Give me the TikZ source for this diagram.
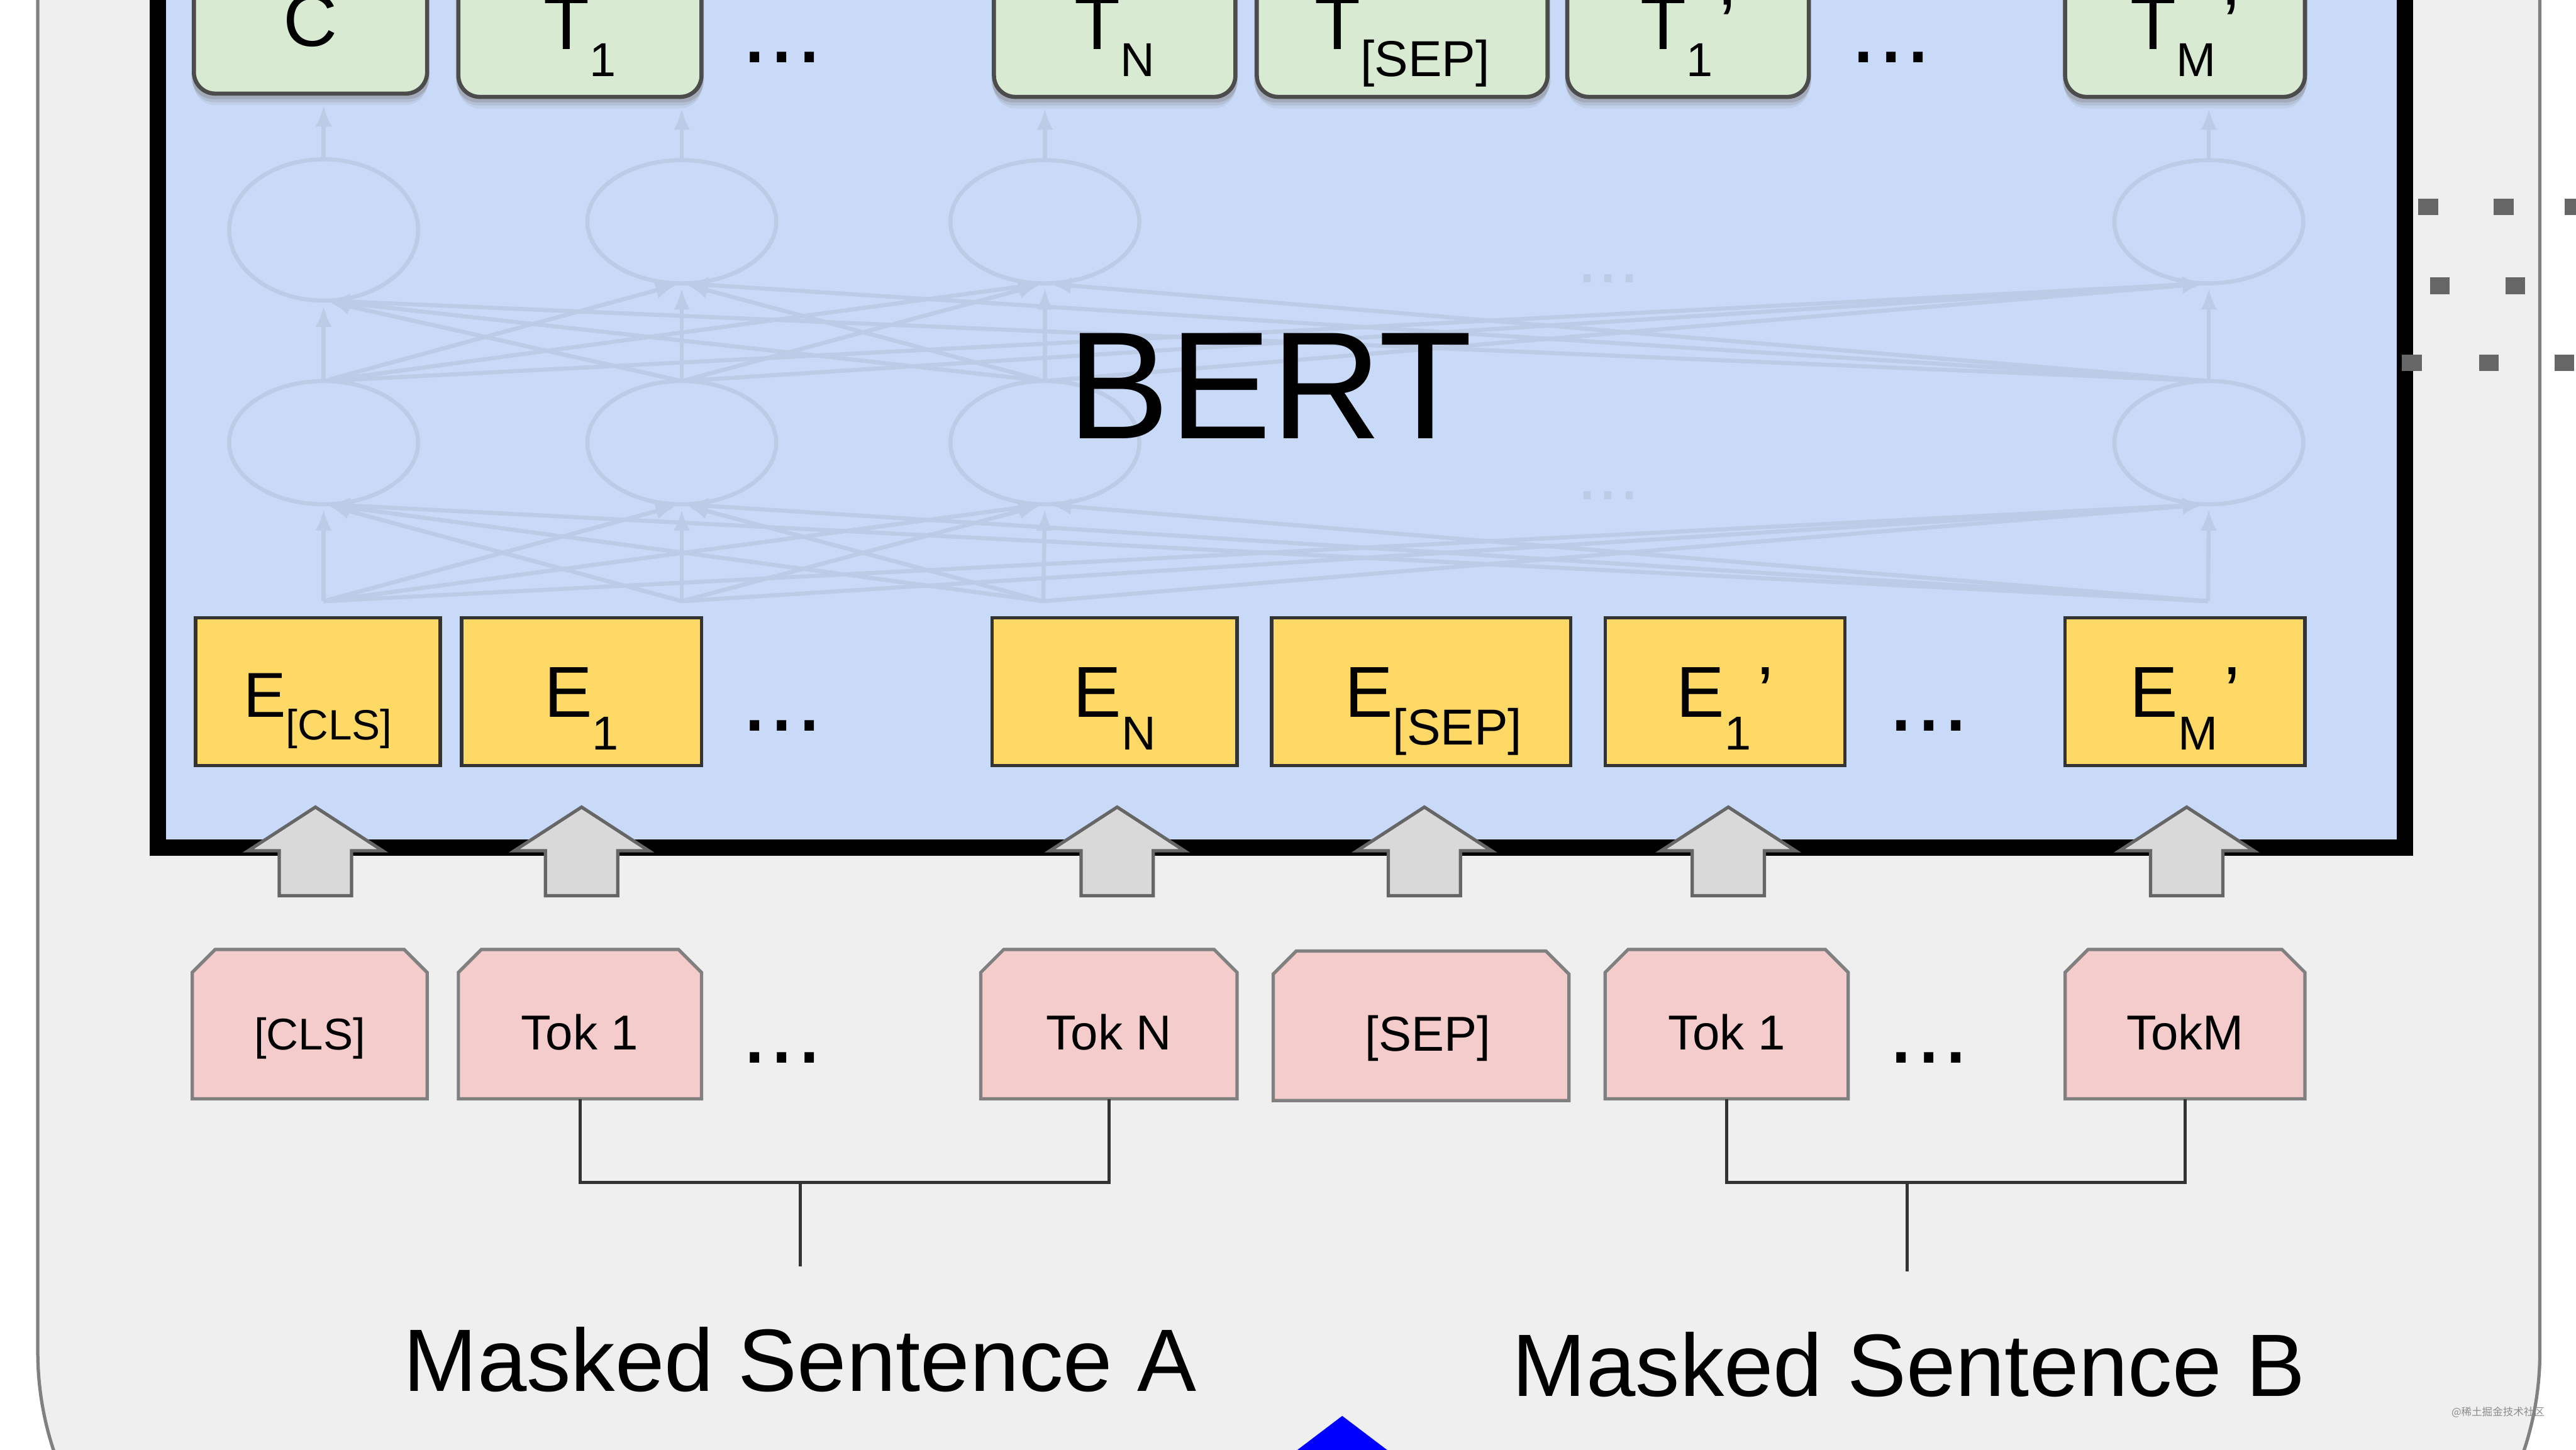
\documentclass[tikz,border=0pt]{standalone}
\usepackage{fontspec}
\setmainfont{Liberation Sans}
\newfontfamily\cjkwm{Noto Sans CJK SC}
\usetikzlibrary{shadows, arrows.meta, positioning, shapes.geometric, shapes.misc, shapes.arrows}
\definecolor{my_panel}{RGB}{239, 239, 239}
\definecolor{my_blue}{RGB}{201, 218, 248}
\definecolor{my_green}{RGB}{217, 234, 211}
\definecolor{my_yellow}{RGB}{255, 217, 102}
\definecolor{my_pink}{RGB}{244, 204, 204}
\definecolor{my_arrow}{RGB}{217, 217, 217}
\definecolor{my_ghost}{RGB}{188, 204, 230}
\newcommand{\tokfont}[1]{\fontsize{#1}{#1}\selectfont}
\newcommand{\subtok}[2][16.5]{\raisebox{-0.4cm}{\tokfont{#1}#2}}
\newcommand{\subout}[2][16.5]{\raisebox{-0.33cm}{\tokfont{#1}#2}}
\tikzset {
  outline/.style = {draw=black!50, line width=0.04cm},
  bertbox/.style = {draw=black, line width=0.2cm, fill=my_blue},
  output/.style = {draw=black!70, line width=0.05cm, fill=my_green, rounded corners=0.26cm, inner sep=0, outer sep=0,
    minimum height=3.2cm, text height=2.04cm, text depth=0pt, font=\tokfont{26},
    drop shadow={shadow xshift=0pt, shadow yshift=-4pt, opacity=0.12},
    drop shadow={shadow xshift=0pt, shadow yshift=-2.5pt, opacity=0.2, shadow scale=1.01},
    drop shadow={shadow xshift=0pt, shadow yshift=-1pt, opacity=0.3, shadow scale=1.02}},
  embed/.style = {draw=black!80, line width=0.04cm, fill=my_yellow, inner sep=0, outer sep=0,
    minimum height=1.8cm, text height=0.62cm, text depth=0pt, font=\tokfont{25}},
  token/.style = {draw=black!50, line width=0.04cm, fill=my_pink, chamfered rectangle, chamfered rectangle corners={north west, north east},
    chamfered rectangle xsep=0.12cm, chamfered rectangle ysep=0.16cm, inner sep=0, outer sep=0,
    minimum height=1.82cm, text height=0.62cm, text depth=0pt, font=\tokfont{17}},
  uparrow/.style = {draw=black!60, line width=0.04cm, fill=my_arrow, single arrow, shape border rotate=90, inner xsep=0.42cm, inner ysep=0, outer sep=0,
    minimum width=1.56cm, minimum height=1.08cm, single arrow head extend=0.38cm, single arrow tip angle=114},
  cell/.style = {draw=my_ghost, line width=0.05cm, ellipse, fill=my_blue, inner sep=0, outer sep=0, minimum width=2.3cm},
  ghost/.style = {-{Latex[length=0.26cm, width=0.2cm]}, draw=my_ghost, fill=my_ghost, line width=0.05cm, shorten >=0.06cm},
  bracket/.style = {draw=black!80, line width=0.04cm},
  dotdot/.style = {anchor=base, inner sep=0, font=\tokfont{34}},
  plain/.style = {anchor=base, inner sep=0},
}

\begin{document}
\begin{tikzpicture}[x=0.02cm, y=-0.02cm]
    \clip (0,0) rectangle (1568,882.5);
    \fill[white] (0,0) rectangle (1568,882.5);

    \draw[outline, fill=my_panel, rounded corners=3.8cm] (23,-300) rectangle (1546,1013);
    \draw[bertbox] (96,-100) rectangle (1464,516);

    % hidden layers
    \coordinate (b1) at (197,366);
    \coordinate (b2) at (415,366);
    \coordinate (b3) at (635,366);
    \coordinate (b4) at (1344,366);
    \node[cell, minimum height=1.5cm] (l1) at (197,269.5) {};
    \node[cell, minimum height=1.5cm] (l2) at (415,269.5) {};
    \node[cell, minimum height=1.5cm] (l3) at (636,269.5) {};
    \node[cell, minimum height=1.5cm] (l4) at (1344.5,269.5) {};
    \node[cell, minimum height=1.72cm] (u1) at (197,140) {};
    \node[cell, minimum height=1.5cm] (u2) at (415,135) {};
    \node[cell, minimum height=1.5cm] (u3) at (636,135) {};
    \node[cell, minimum height=1.5cm] (u4) at (1344.5,135) {};
    \foreach \a in {b1,b2,b3,b4}
      \foreach \b in {l1,l2,l3,l4}
        \draw[ghost] (\a) -- (\b.south);
    \foreach \a in {l1,l2,l3,l4}
      \foreach \b in {u1,u2,u3,u4}
        \draw[ghost] (\a.north) -- (\b.south);
    \node[plain, text=my_ghost, font=\tokfont{26}] (gap1) at (979,172) {...};
    \node[plain, text=my_ghost, font=\tokfont{26}] (gap2) at (979,304) {...};

    \node[plain, font=\tokfont{53}] (bert) at (773,267) {BERT};

    % output row
    \node[output, minimum width=2.84cm] (c) at (189,-23) {C};
    \node[output, minimum width=2.96cm] (t1) at (353,-21) {T\subout{1}};
    \node[dotdot] (dots1) at (476,38) {...};
    \node[output, minimum width=2.94cm] (tn) at (678.5,-21) {T\subout{N}};
    \node[output, minimum width=3.54cm] (tsep) at (853.5,-21) {T\subout[17.5]{[SEP]}};
    \node[output, minimum width=2.94cm] (tp1) at (1027.5,-21) {T\subout{1}\hspace{0.08cm}’};
    \node[dotdot] (dots2) at (1151,38) {...};
    \node[output, minimum width=2.92cm] (tpm) at (1330,-21) {T\subout{M}\hspace{0.08cm}’};

    \draw[ghost, shorten >=0.14cm] (u1.north) -- (u1.north |- c.south);
    \draw[ghost, shorten >=0.14cm] (u2.north) -- (u2.north |- t1.south);
    \draw[ghost, shorten >=0.14cm] (u3.north) -- (u3.north |- tn.south);
    \draw[ghost, shorten >=0.14cm] (u4.north) -- (u4.north |- tpm.south);

    % embeddings
    \node[embed, minimum width=2.98cm, font=\tokfont{22}] (ecls) at (193.5,421) {E\raisebox{-0.28cm}{\tokfont{14.7}[CLS]}};
    \node[embed, minimum width=2.92cm] (e1) at (354,421) {E\subtok{1}};
    \node[dotdot] (dots3) at (476,445) {...};
    \node[embed, minimum width=2.98cm] (en) at (678.5,421) {E\subtok{N}};
    \node[embed, minimum width=3.64cm] (esep) at (865,421) {\hspace{0.3cm}E\raisebox{-0.34cm}{\tokfont{17.5}[SEP]}};
    \node[embed, minimum width=2.92cm] (ep1) at (1050,421) {E\subtok{1}\hspace{0.08cm}’};
    \node[dotdot] (dots4) at (1174,445) {...};
    \node[embed, minimum width=2.92cm] (epm) at (1330,421) {E\subtok{M}\hspace{0.08cm}’};

    % arrows into the model
    \node[uparrow] (a1) at (192,525.5) {};
    \node[uparrow] (a2) at (354,525.5) {};
    \node[uparrow] (a3) at (680,525.5) {};
    \node[uparrow] (a4) at (867,525.5) {};
    \node[uparrow] (a5) at (1052,525.5) {};
    \node[uparrow] (a6) at (1331,525.5) {};

    % tokens
    \node[token, minimum width=2.86cm, font=\tokfont{15.4}] (tcls) at (188.5,623.5) {[CLS]};
    \node[token, minimum width=2.96cm] (tok1) at (353,623.5) {Tok 1};
    \node[dotdot] (dots5) at (476,647) {...};
    \node[token, minimum width=3.12cm] (tokn) at (675,623.5) {Tok N};
    \node[token, minimum width=3.6cm] (sep) at (865,624.5) {\hspace{0.16cm}[SEP]};
    \node[token, minimum width=2.96cm] (tok1b) at (1051,623.5) {Tok 1};
    \node[dotdot] (dots6) at (1174,647) {...};
    \node[token, minimum width=2.92cm] (tokm) at (1330,623.5) {TokM};

    % brackets and sentence labels
    \node[plain, font=\tokfont{30.7}] (senta) at (487,847) {Masked Sentence A};
    \node[plain, font=\tokfont{30.7}] (sentb) at (1162,850) {Masked Sentence B};
    \draw[bracket] (tok1.south) -- ++(0,51) -| (tokn.south);
    \draw[bracket] (tok1b.south) -- ++(0,51) -| (tokm.south);
    \coordinate (joina) at (487,720);
    \coordinate (capa) at (487,771);
    \coordinate (joinb) at (1161,720);
    \coordinate (capb) at (1161,774);
    \draw[bracket] (joina) -- (capa);
    \draw[bracket] (joinb) -- (capb);

    \fill[blue] (817,862) -- (900,925) -- (817,990) -- (734,925) -- cycle;

    % stray dots on the right
    \foreach \x/\y in {1478/126, 1524/126, 1567/126, 1485/174, 1531/174, 1468/221, 1515/221, 1561/221}
      \fill[black!60] (\x-6,\y-5) rectangle (\x+6,\y+5);

    \node[plain, text=black!45, font=\cjkwm\tokfont{3.6}] (mark) at (1520.5,862) {@稀土掘金技术社区};
\end{tikzpicture}
\end{document}
